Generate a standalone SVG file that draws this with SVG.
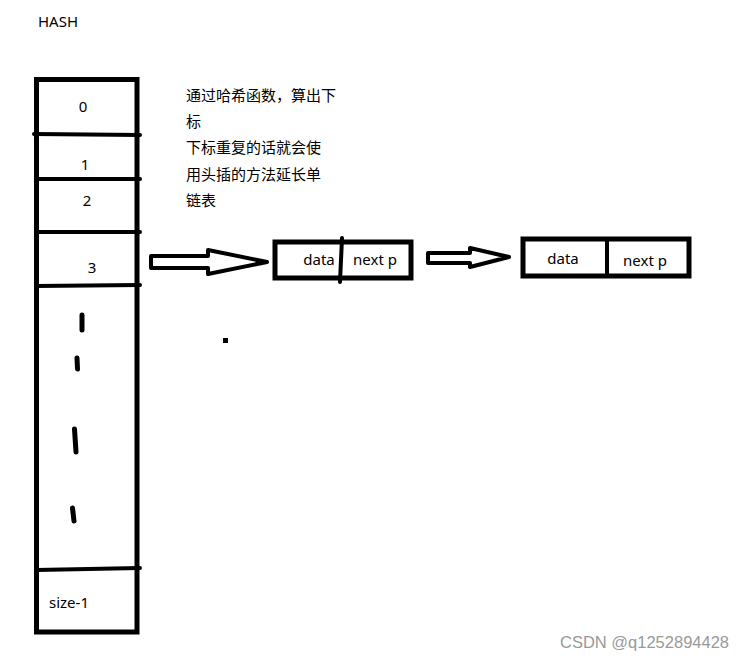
<svg xmlns="http://www.w3.org/2000/svg" width="746" height="660" viewBox="0 0 746 660">
<style>
.t{font-family:"Noto Sans","Noto Sans CJK SC",sans-serif;font-size:15px;fill:#000}
.c{font-family:"Noto Sans CJK SC","Noto Sans",sans-serif;font-size:15px;fill:#000}
.box{fill:none;stroke:#000;stroke-width:5}
.ln{stroke:#000;stroke-width:4;stroke-linecap:round;fill:none}
.dash{stroke:#000;stroke-width:5;stroke-linecap:round}
.arr{fill:#fff;stroke:#000;stroke-width:4;stroke-linejoin:round}
.wm{font-family:"Liberation Sans",Arial,sans-serif;font-size:16.5px;fill:#999}
</style>
<rect width="746" height="660" fill="#fff"/>
<text class="t" x="38" y="27">HASH</text>
<g id="hash-table">
<rect class="box" x="36.5" y="79.5" width="100.5" height="552.5"/>
<line class="ln" x1="34" y1="134" x2="140" y2="135"/>
<line class="ln" x1="36" y1="179" x2="140" y2="179"/>
<line class="ln" x1="36" y1="232" x2="140" y2="232"/>
<line class="ln" x1="36" y1="286" x2="140" y2="285"/>
<line class="ln" x1="36" y1="570" x2="140" y2="568"/>
<text class="t" x="83" y="112" text-anchor="middle">0</text>
<text class="t" x="85" y="170" text-anchor="middle">1</text>
<text class="t" x="87" y="206" text-anchor="middle">2</text>
<text class="t" x="92" y="273" text-anchor="middle">3</text>
<text class="t" x="49" y="608">size-1</text>
<line class="dash" x1="82" y1="315" x2="82" y2="330"/>
<line class="dash" x1="77" y1="358" x2="77.5" y2="369"/>
<line class="dash" x1="74.5" y1="429" x2="76" y2="452"/>
<line class="dash" x1="72.5" y1="508" x2="74" y2="521"/>
</g>
<rect x="223" y="338" width="5" height="5" fill="#000"/>
<g id="note">
<text class="c" x="186" y="101">通过哈希函数，算出下</text>
<text class="c" x="186" y="127">标</text>
<text class="c" x="186" y="153">下标重复的话就会使</text>
<text class="c" x="186" y="180">用头插的方法延长单</text>
<text class="c" x="186" y="206">链表</text>
</g>
<g id="connectors">
<polygon class="arr" points="151,256 208,256 208,250 267,262 208,274 208,268 151,268"/>
<polygon class="arr" points="428,253 470,253 470,248 509,257 470,267 470,263 428,263"/>
</g>
<g id="node1">
<rect class="box" x="275" y="242" width="136" height="36"/>
<line class="ln" x1="342" y1="238" x2="340" y2="282"/>
<text class="t" x="319" y="265" text-anchor="middle">data</text>
<text class="t" x="375" y="265" text-anchor="middle">next p</text>
</g>
<g id="node2">
<rect class="box" x="523" y="239" width="166" height="37"/>
<line class="ln" x1="607" y1="239" x2="607" y2="276"/>
<text class="t" x="563" y="264" text-anchor="middle">data</text>
<text class="t" x="645" y="266" text-anchor="middle">next p</text>
</g>
<text class="wm" x="560" y="648">CSDN @q1252894428</text>
</svg>
